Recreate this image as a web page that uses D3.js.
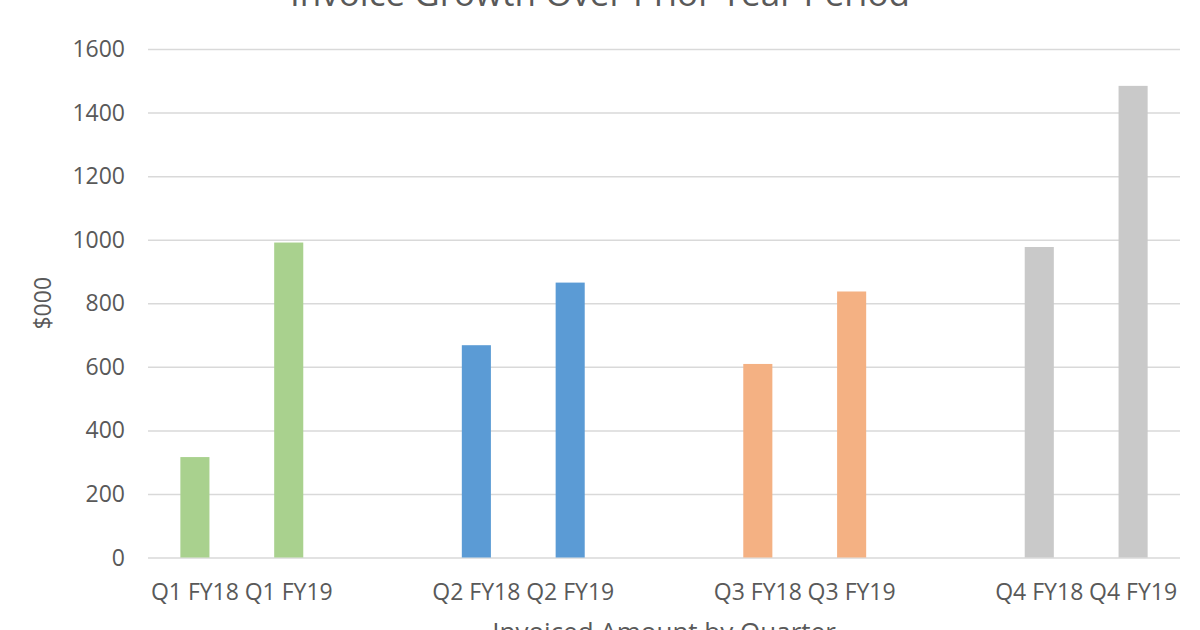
<!DOCTYPE html>
<html lang="en">
<head>
    <meta charset="UTF-8">
    <title>Invoice Growth Over Prior Year Period</title>
    <script src="https://d3js.org/d3.v7.min.js"></script>
    <style>
        body { margin: 0; background: #fff; }
        text { font-family: "Open Sans", sans-serif; fill: #595959; }
        .grid line { stroke: #d9d9d9; stroke-width: 1.5px; }
    </style>
</head>
<body>
    <div id="chart"></div>

    <script>
        // chart data
        const quarters = ['Q1', 'Q2', 'Q3', 'Q4'];
        const years = ['FY18', 'FY19'];
        const fy18 = [316, 668, 609, 977];
        const fy19 = [991, 865, 837, 1484];
        const colors = ['#a9d18e', '#5b9bd5', '#f4b183', '#c9c9c9'];
        const yTicks = [0, 200, 400, 600, 800, 1000, 1200, 1400, 1600];

        // each quarter gets two slots plus one empty slot as spacer
        const bars = [];
        quarters.forEach((q, i) => {
            bars.push({ label: q + ' ' + years[0], value: fy18[i], slot: i * 3, color: colors[i] });
            bars.push({ label: q + ' ' + years[1], value: fy19[i], slot: i * 3 + 1, color: colors[i] });
        });

        const width = 1200;
        const height = 630;
        const margin = { top: 49, right: 20, bottom: 72, left: 148 };

        const svg = d3.select('#chart').append('svg')
            .attr('width', width)
            .attr('height', height);

        const x = d3.scaleBand()
            .domain(d3.range(quarters.length * 3 - 1))
            .range([margin.left, width - margin.right])
            .paddingInner(0.69)
            .paddingOuter(0.345);

        const y = d3.scaleLinear()
            .domain([0, 1600])
            .range([height - margin.bottom - 0.5, margin.top]);

        // gridlines
        svg.append('g')
            .attr('class', 'grid')
            .attr('transform', `translate(${margin.left},0)`)
            .call(d3.axisLeft(y).tickValues(yTicks).tickSize(-(width - margin.left - margin.right)).tickFormat(''))
            .call(g => g.select('.domain').remove());

        // y tick labels
        svg.append('g')
            .selectAll('text')
            .data(yTicks)
            .join('text')
            .attr('x', 125)
            .attr('y', d => y(d))
            .attr('dy', '0.35em')
            .attr('text-anchor', 'end')
            .style('font-size', '23px')
            .text(d => d);

        // bars
        svg.append('g')
            .selectAll('rect')
            .data(bars)
            .join('rect')
            .attr('x', d => x(d.slot))
            .attr('y', d => y(d.value))
            .attr('width', x.bandwidth())
            .attr('height', d => y(0) - y(d.value))
            .attr('fill', d => d.color);

        // category labels
        svg.append('g')
            .selectAll('text')
            .data(bars)
            .join('text')
            .attr('x', d => x(d.slot) + x.bandwidth() / 2)
            .attr('y', 600)
            .attr('text-anchor', 'middle')
            .style('font-size', '23px')
            .text(d => d.label);

        // titles (partly cut by the frame, as in the source)
        svg.append('text')
            .attr('x', width / 2)
            .attr('y', 6)
            .attr('text-anchor', 'middle')
            .style('font-size', '35px')
            .text('Invoice Growth Over Prior Year Period');

        svg.append('text')
            .attr('x', (margin.left + width - margin.right) / 2)
            .attr('y', 641)
            .attr('text-anchor', 'middle')
            .style('font-size', '26px')
            .text('Invoiced Amount by Quarter');

        svg.append('text')
            .attr('transform', `translate(51,${y(800)}) rotate(-90)`)
            .attr('text-anchor', 'middle')
            .style('font-size', '23px')
            .text('$000');
    </script>
</body>
</html>
